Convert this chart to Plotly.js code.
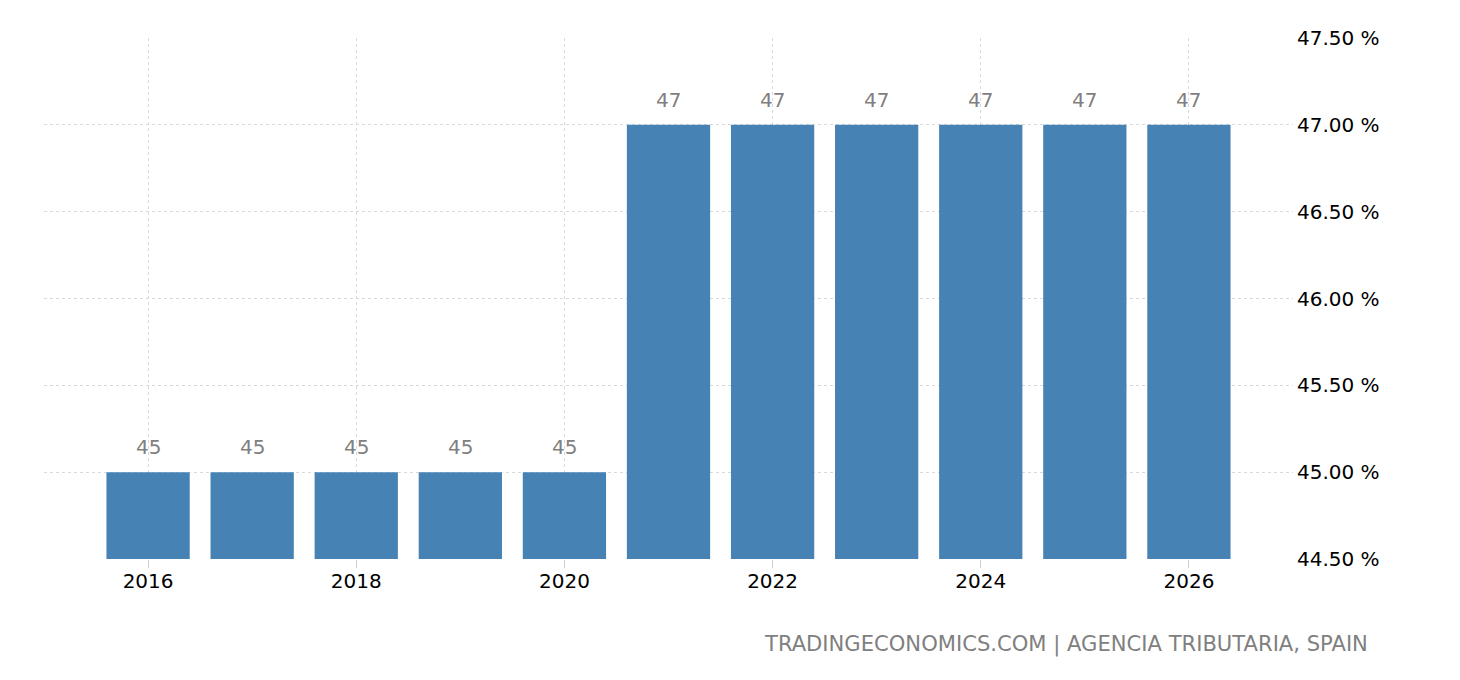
<!DOCTYPE html>
<html><head><meta charset="utf-8">
<script src="https://cdn.plot.ly/plotly-3.0.1.min.js"></script>
<style>html,body{margin:0;padding:0;background:#fff;}#chart{width:1460px;height:680px;}</style>
</head><body><div id="chart"></div>
<script>
const years = [2016, 2017, 2018, 2019, 2020, 2021, 2022, 2023, 2024, 2025, 2026];
const rates = [45, 45, 45, 45, 45, 47, 47, 47, 47, 47, 47];
const barLabels = ['45', '45', '45', '45', '45', '47', '47', '47', '47', '47', '47'];
const sourceText = 'TRADINGECONOMICS.COM | AGENCIA TRIBUTARIA, SPAIN';

const font = 'Tahoma, "DejaVu Sans", Verdana, sans-serif';

const trace = {
  type: 'bar', x: years, y: rates, width: 0.8,
  marker: {color: '#4682b4'}, hoverinfo: 'none'
};

const annotations = years.map((yr, i) => ({
  x: yr, y: rates[i], xref: 'x', yref: 'y', text: barLabels[i],
  showarrow: false, yanchor: 'bottom', yshift: 11,
  font: {family: font, size: 20, color: '#808080'}
}));
annotations.push({
  xref: 'paper', yref: 'paper', x: 1.062, y: -0.134, xanchor: 'right', yanchor: 'top',
  text: sourceText, showarrow: false,
  font: {family: font, size: 21.1, color: '#808080'}
});

const layout = {
  width: 1460, height: 680,
  margin: {l: 44, r: 167, t: 38, b: 121},
  paper_bgcolor: '#fff', plot_bgcolor: '#fff',
  showlegend: false, bargap: 0.2,
  xaxis: {
    range: [2015, 2027], tick0: 2016, dtick: 2, tickformat: 'd',
    showgrid: true, gridcolor: '#d9d9d9', griddash: 'dot', gridwidth: 1,
    zeroline: false, showline: false,
    ticks: 'outside', ticklen: 8, tickcolor: '#cccccc',
    ticklabelstandoff: -4,
    tickfont: {family: font, size: 20, color: '#000'}
  },
  yaxis: {
    side: 'right', range: [44.5, 47.5], dtick: 0.5, tick0: 44.5,
    tickformat: '.2f', ticksuffix: ' %',
    showgrid: true, gridcolor: '#d9d9d9', griddash: 'dot', gridwidth: 1,
    zeroline: false, showline: false, ticks: '',
    ticklabelstandoff: 3,
    tickfont: {family: font, size: 20, color: '#000'}
  },
  annotations: annotations
};

Plotly.newPlot('chart', [trace], layout, {displayModeBar: false, staticPlot: true});
</script></body></html>
